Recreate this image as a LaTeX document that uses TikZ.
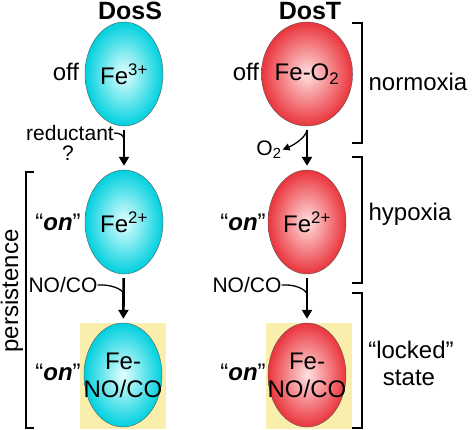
\documentclass[tikz,border=0pt]{standalone}
\usepackage{fontspec}
\setmainfont{Liberation Sans}
\usetikzlibrary{shapes.geometric,arrows.meta}

\definecolor{dosscyan}{RGB}{0,208,222}
\definecolor{cyaninner}{RGB}{228,255,255}
\definecolor{dostred}{RGB}{234,52,60}
\definecolor{redinner}{RGB}{255,224,224}
\definecolor{lockyellow}{RGB}{250,238,172}

\begin{document}
\begin{tikzpicture}[x=1pt, y=1pt,
  every node/.style={font=\fontsize{24}{28}\selectfont, inner sep=0pt},
  heme/.style={ellipse, draw=black!65, thin, minimum width=78pt, minimum height=104pt, align=center},
  doss/.style={heme, inner color=cyaninner, outer color=dosscyan},
  dost/.style={heme, inner color=redinner, outer color=dostred},
  bound/.style={inner xsep=-12pt},
  hilite/.style={fill=lockyellow, minimum width=86pt, minimum height=106pt},
  title/.style={font=\fontsize{25}{28}\selectfont\bfseries},
  small/.style={font=\fontsize{21}{24}\selectfont},
  arrow/.style={-{Triangle[length=9pt,width=10pt]}, line width=2.6pt, shorten <=4pt, shorten >=4pt},
  oarrow/.style={-{Triangle[length=7pt,width=7pt]}, line width=1.3pt, shorten >=1pt},
  hook/.style={line width=1.3pt},
  brk/.style={line width=1.6pt}
]
  \useasboundingbox (0,0) rectangle (474,429);

  \node[hilite] (sbox) at (123,53) {};
  \node[hilite] (tbox) at (309,53) {};

  \node[title] (dossname) at (130,418) {DosS};
  \node[title] (dostname) at (310,418) {DosT};

  \node[doss] (s1) at (124,355) {Fe\textsuperscript{3+}};
  \node[doss] (s2) at (124,207) {Fe\textsuperscript{2+}};
  \node[doss, bound] (s3) at (123,54) {Fe-\\NO/CO};
  \node[dost] (t1) at (307,355) {Fe-O\textsubscript{2}};
  \node[dost] (t2) at (307,207) {Fe\textsuperscript{2+}};
  \node[dost, bound] (t3) at (307,54) {Fe-\\NO/CO};

  \node (soff) at (66,357) {off};
  \node (toff) at (246,357) {off};
  \node (son2) at (58,207) {“\textbf{\textit{on}}”};
  \node (son3) at (58,57) {“\textbf{\textit{on}}”};
  \node (ton2) at (243,207) {“\textbf{\textit{on}}”};
  \node (ton3) at (243,57) {“\textbf{\textit{on}}”};

  \node[small] (red) at (70,296) {reductant};
  \node[small] (qm) at (68,276) {?};
  \node[small] (snoco) at (63,144) {NO/CO};
  \node[small] (tnoco) at (247,144) {NO/CO};
  \node[small] (otwo) at (269,279) {O\textsubscript{2}};

  \node (normo) at (418,347) {normoxia};
  \node (hypo) at (410,215) {hypoxia};
  \node (locked) at (411,79) {“locked”};
  \node (state) at (409,51) {state};
  \node[rotate=90] (pers) at (12,138) {persistence};

  \coordinate (sj1) at (124,289);
  \coordinate (sj2) at (124,134);
  \coordinate (tj1) at (307,299);
  \coordinate (tj2) at (307,134);

  \draw[arrow] (s1) -- (s2);
  \draw[arrow] (s2) -- (s3);
  \draw[arrow] (t1) -- (t2);
  \draw[arrow] (t2) -- (t3);
  \draw[hook] (red.east) .. controls +(6,0) and +(0,5) .. (sj1);
  \draw[hook] (snoco.east) .. controls +(12,1) and +(0,6) .. (sj2);
  \draw[hook] (tnoco.east) .. controls +(12,1) and +(0,6) .. (tj2);
  \draw[oarrow] (tj1) .. controls +(-1,-8) and +(10,4) .. (otwo.east);

  \draw[brk] (34,257) -- (26,257) -- (26,1) -- (34,1);
  \draw[brk] (352,406) -- (362,406) -- (362,286) -- (352,286);
  \draw[brk] (352,272) -- (362,272) -- (362,146) -- (352,146);
  \draw[brk] (352,136) -- (362,136) -- (362,1) -- (352,1);
\end{tikzpicture}
\end{document}
